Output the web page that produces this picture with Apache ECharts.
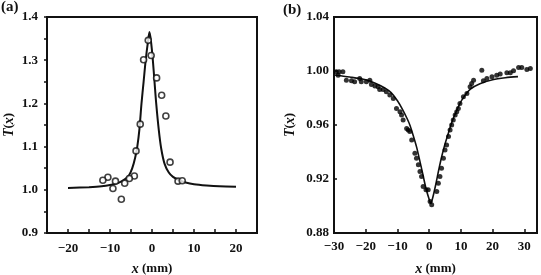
<!DOCTYPE html>
<html>
<head>
<meta charset="UTF-8">
<title></title>
<script src="https://cdn.jsdelivr.net/npm/echarts@6.0.0/dist/echarts.min.js"></script>
<style>
  html, body { margin: 0; padding: 0; background: #fff; }
  #main { width: 541px; height: 275px; }
</style>
</head>
<body>
<div id="main"></div>
<script>
// panel (a): open circles + fitted curve
var ptsAx = [-0.9, -2.0, -0.2, 1.1, 2.3, 3.3, -2.8, -3.8, 4.3, 6.2, 7.2, -4.2, -5.4, -6.5, -8.7, -9.3, -10.5, -11.7, -7.3];
var ptsAy = [1.346, 1.301, 1.311, 1.259, 1.219, 1.171, 1.152, 1.090, 1.064, 1.020, 1.021, 1.032, 1.026, 1.015, 1.020, 1.003, 1.029, 1.022, 0.978];
var curveAx = [-20, -15, -12, -10, -8, -6.5, -5.5, -4.7, -4, -3.5, -3, -2.5, -2, -1.5, -1, -0.6, -0.2, 0.2, 0.6, 1, 1.6, 2.2, 3, 4, 5, 6.5, 8, 10, 13, 16, 20];
var curveAy = [1.004, 1.006, 1.008, 1.011, 1.016, 1.024, 1.033, 1.05, 1.075, 1.10, 1.14, 1.20, 1.25, 1.30, 1.34, 1.365, 1.34, 1.30, 1.25, 1.20, 1.14, 1.095, 1.06, 1.04, 1.03, 1.022, 1.017, 1.013, 1.010, 1.008, 1.007];

// panel (b): filled dots + fitted curve
var ptsBx = [-29.3, -28.4, -27.2, -28.7, -26.1, -24.5, -23.5, -21.9, -21.4, -19.8, -18.7, -18.2, -17.1, -16.1, -15.6, -14.5, -13.5, -12.4, -11.3, -10.3, -9.2, -8.7, -8.2, -7.1, -6.6, -6.1, -5.5, -4.5, -4.0, -3.4, -2.9, -2.4, -1.9, -1.0, -0.3, 0.3, 0.8,
  2.4, 2.9, 3.4, 3.9, 4.5, 5.0, 5.5, 6.1, 6.6, 7.1, 7.6, 8.2, 8.7, 9.2, 9.7, 10.8, 11.9, 12.9, 13.4, 14.0, 16.6, 17.1, 18.2, 19.8, 21.3, 22.4, 24.5, 25.6, 26.6, 28.2, 29.2, 30.8, 31.9];
var ptsBy = [0.9994, 0.9994, 0.9994, 0.9969, 0.9932, 0.9927, 0.9920, 0.9945, 0.9920, 0.9920, 0.9932, 0.9900, 0.9888, 0.9883, 0.9863, 0.9863, 0.9846, 0.9822, 0.9797, 0.9723, 0.9698, 0.9674, 0.9637, 0.9575, 0.9563, 0.9551, 0.9489, 0.9391, 0.9354, 0.9305, 0.9255, 0.9218, 0.9144, 0.9120, 0.9120, 0.9034, 0.9009,
  0.9107, 0.9169, 0.9218, 0.9280, 0.9354, 0.9415, 0.9452, 0.9514, 0.9563, 0.9600, 0.9637, 0.9674, 0.9698, 0.9723, 0.9760, 0.9809, 0.9834, 0.9883, 0.9908, 0.9932, 1.0006, 0.9927, 0.9945, 0.9957, 0.9969, 0.9977, 0.9987, 0.9987, 1.0001, 1.0026, 1.0026, 1.0011, 1.0019];
var curveBx = [-30, -25, -20, -17, -14, -12, -10, -8.5, -7, -6, -5, -4, -3, -2, -1, 0, 0.5, 1, 2, 3, 4, 5, 6, 7, 8, 9.5, 11, 13, 16, 20, 24, 28];
var curveBy = [0.997, 0.9955, 0.9935, 0.991, 0.9875, 0.984, 0.978, 0.972, 0.965, 0.9595, 0.952, 0.944, 0.934, 0.9235, 0.913, 0.905, 0.902, 0.905, 0.915, 0.9265, 0.937, 0.946, 0.9535, 0.961, 0.967, 0.975, 0.981, 0.9865, 0.9905, 0.9935, 0.995, 0.9958];

function zip(xs, ys) {
  var out = [];
  for (var i = 0; i < xs.length; i++) out.push([xs[i], ys[i]]);
  return out;
}

var serif = 'Liberation Serif';
var ink = '#111';
var rich = {
  i: { fontFamily: serif, fontStyle: 'italic', fontWeight: 'bold', fontSize: 14, color: ink }
};

function fmtX(v) {
  if (Math.abs(v % 10) > 1e-6) return '';
  return v < 0 ? '\u2212' + Math.abs(v) : String(v);
}

var chart = echarts.init(document.getElementById('main'));
chart.setOption({
  backgroundColor: '#fff',
  animation: false,
  textStyle: { fontFamily: serif, fontWeight: 'bold', color: ink },
  grid: [
    { left: 47, top: 17, width: 210, height: 216, outerBoundsMode: 'none', show: true, borderColor: ink, borderWidth: 2 },
    { left: 334, top: 17, width: 203, height: 216, outerBoundsMode: 'none', show: true, borderColor: ink, borderWidth: 2 }
  ],
  xAxis: [{
    gridIndex: 0, type: 'value', min: -25, max: 25, interval: 5,
    axisLine: { onZero: false, lineStyle: { color: ink, width: 2 } },
    axisTick: { inside: true, length: 4, lineStyle: { color: ink, width: 1.5 } },
    splitLine: { show: false },
    axisLabel: { formatter: fmtX, color: ink, fontSize: 13, fontWeight: 'bold', fontFamily: serif, margin: 9 },
    name: '{i|x} (mm)', nameLocation: 'middle', nameGap: 29,
    nameTextStyle: { fontSize: 13, fontWeight: 'bold', fontFamily: serif, color: ink, rich: rich }
  }, {
    gridIndex: 1, type: 'value', min: -30, max: 34, interval: 10,
    axisLine: { onZero: false, lineStyle: { color: ink, width: 2 } },
    axisTick: { inside: true, length: 4, lineStyle: { color: ink, width: 1.5 } },
    splitLine: { show: false },
    axisLabel: { formatter: fmtX, color: ink, fontSize: 13, fontWeight: 'bold', fontFamily: serif, margin: 7, showMaxLabel: false },
    name: '{i|x} (mm)', nameLocation: 'middle', nameGap: 29,
    nameTextStyle: { fontSize: 13, fontWeight: 'bold', fontFamily: serif, color: ink, rich: rich }
  }],
  yAxis: [{
    gridIndex: 0, type: 'value', min: 0.9, max: 1.4, interval: 0.05,
    axisLine: { onZero: false, lineStyle: { color: ink, width: 2 } },
    axisTick: { inside: false, length: 3, lineStyle: { color: ink, width: 1.5 } },
    splitLine: { show: false },
    axisLabel: {
      formatter: function (v) { return Math.round(v * 100) % 10 === 0 ? v.toFixed(1) : ''; },
      color: ink, fontSize: 13, fontWeight: 'bold', fontFamily: serif, margin: 9,
      padding: [7, 0, 0, 0]
    },
    name: '{i|T}({i|x})', nameLocation: 'middle', nameGap: 31, nameRotate: 90,
    nameTextStyle: { fontSize: 13, fontWeight: 'bold', fontFamily: serif, color: ink, rich: rich }
  }, {
    gridIndex: 1, type: 'value', min: 0.88, max: 1.04, interval: 0.04,
    axisLine: { onZero: false, lineStyle: { color: ink, width: 2 } },
    axisTick: { inside: true, length: 3, lineStyle: { color: ink, width: 1.5 } },
    splitLine: { show: false },
    axisLabel: {
      formatter: function (v) { return v.toFixed(2); },
      color: ink, fontSize: 13, fontWeight: 'bold', fontFamily: serif, margin: 5,
      padding: [7, 0, 0, 0]
    },
    name: '{i|T}({i|x})', nameLocation: 'middle', nameGap: 37, nameRotate: 90,
    nameTextStyle: { fontSize: 13, fontWeight: 'bold', fontFamily: serif, color: ink, rich: rich }
  }],
  graphic: [
    { type: 'text', left: 1, top: 0, style: { text: '(a)', font: 'bold 15px "Liberation Serif"', fill: ink } },
    { type: 'text', left: 283, top: 3, style: { text: '(b)', font: 'bold 15px "Liberation Serif"', fill: ink } }
  ],
  series: [{
    type: 'line', xAxisIndex: 0, yAxisIndex: 0, data: zip(curveAx, curveAy),
    showSymbol: false, smooth: 0.3, lineStyle: { color: ink, width: 2 }, z: 2
  }, {
    type: 'scatter', xAxisIndex: 0, yAxisIndex: 0, data: zip(ptsAx, ptsAy),
    symbol: 'circle', symbolSize: 6,
    itemStyle: { color: '#fff', borderColor: ink, borderWidth: 1.6 }, z: 3
  }, {
    type: 'line', xAxisIndex: 1, yAxisIndex: 1, data: zip(curveBx, curveBy),
    showSymbol: false, smooth: 0.3, lineStyle: { color: ink, width: 1.6 }, z: 2
  }, {
    type: 'scatter', xAxisIndex: 1, yAxisIndex: 1, data: zip(ptsBx, ptsBy),
    symbol: 'circle', symbolSize: 5,
    itemStyle: { color: '#000' }, z: 3
  }]
});
</script>
</body>
</html>
